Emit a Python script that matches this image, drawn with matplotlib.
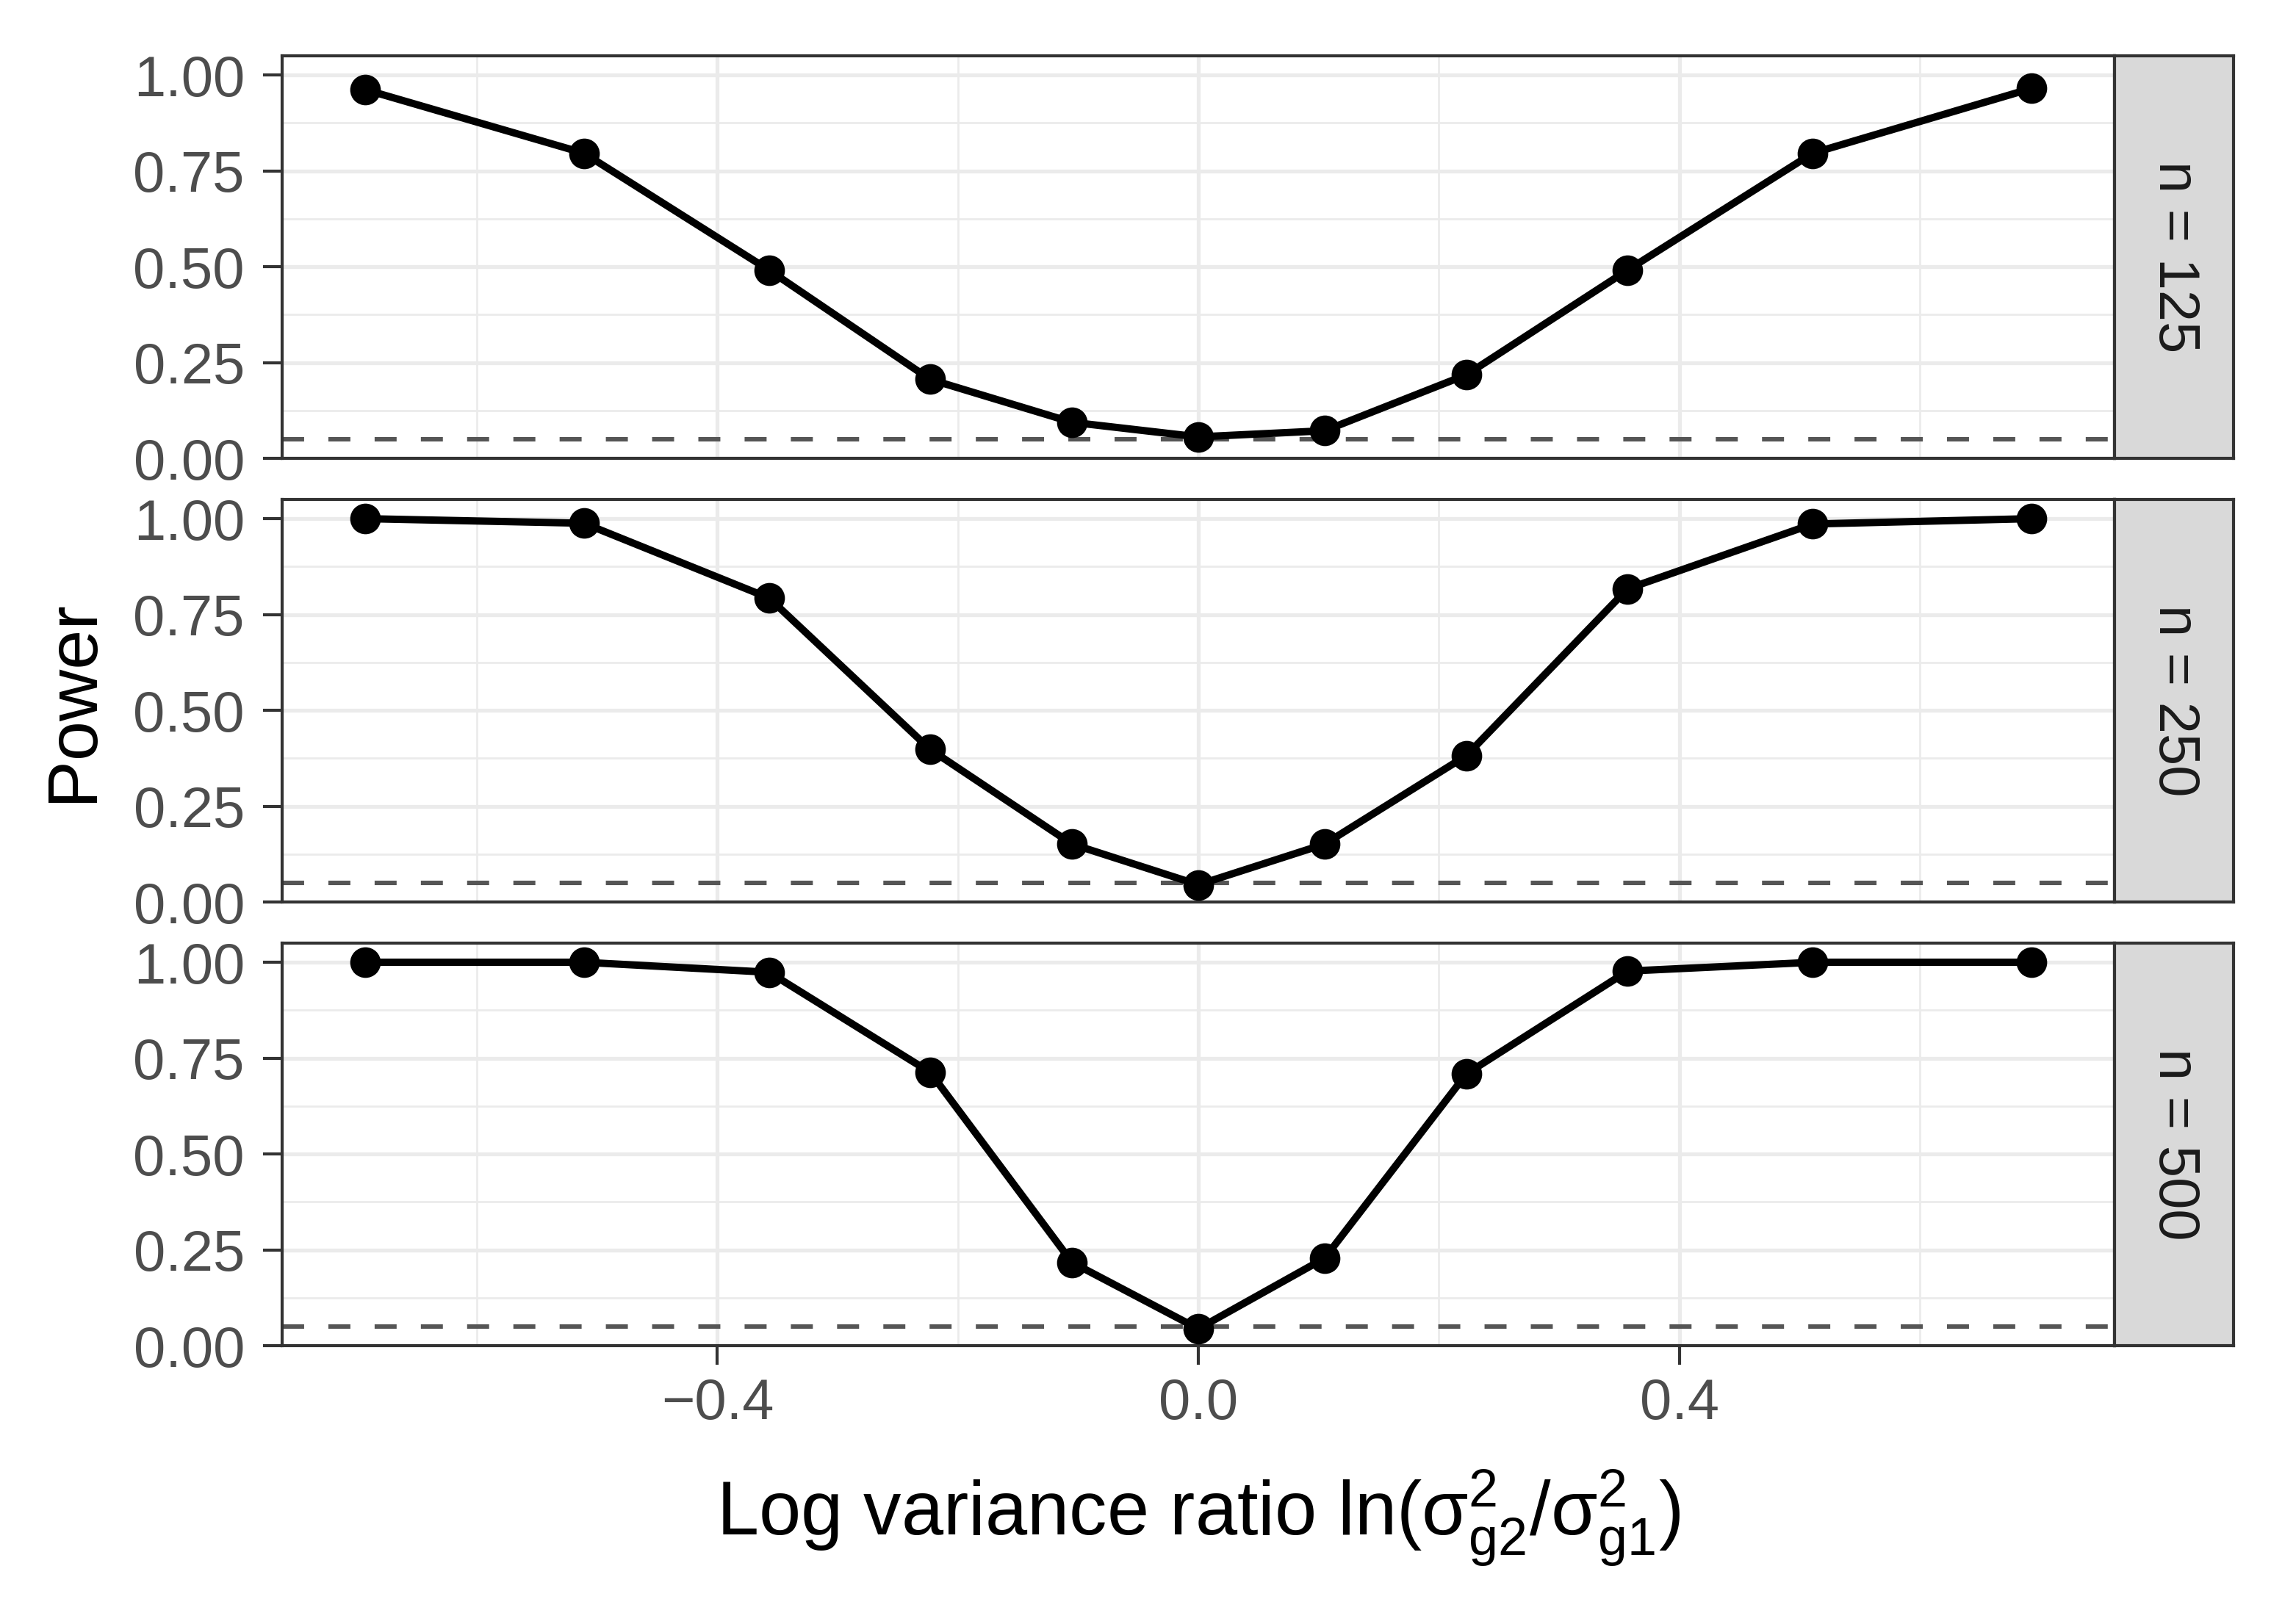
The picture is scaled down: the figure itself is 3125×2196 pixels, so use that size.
import matplotlib
matplotlib.use("Agg")
import matplotlib.pyplot as plt
from matplotlib.ticker import MultipleLocator

plt.rcParams['font.family'] = ['Liberation Sans', 'DejaVu Sans']
plt.rcParams['mathtext.fontset'] = 'custom'
plt.rcParams['mathtext.rm'] = 'Liberation Sans'
plt.rcParams['mathtext.it'] = 'Liberation Sans:italic'
plt.rcParams['axes.unicode_minus'] = True

# log variance ratio (x) and power for each sample size
log_ratio = [-0.693, -0.511, -0.357, -0.223, -0.105, 0.0, 0.105, 0.223, 0.357, 0.511, 0.693]
power_125 = [0.962, 0.796, 0.491, 0.206, 0.094, 0.056, 0.072, 0.218, 0.491, 0.796, 0.965]
power_250 = [1.0, 0.988, 0.793, 0.398, 0.151, 0.045, 0.151, 0.382, 0.817, 0.986, 1.0]
power_500 = [1.0, 1.0, 0.974, 0.713, 0.217, 0.044, 0.228, 0.709, 0.977, 1.0, 1.0]
panel_labels = ["n = 125", "n = 250", "n = 500"]
alpha_level = 0.05

W, H, DPI = 3125, 2196, 200
fig = plt.figure(figsize=(W / DPI, H / DPI), dpi=DPI, facecolor='white')

px_left, px_right, px_strip = 384, 2878, 3040
panel_px = [(76, 624), (680, 1228), (1284, 1832)]
border = '#333333'

series = [power_125, power_250, power_500]
for i, (top, bot) in enumerate(panel_px):
    ax = fig.add_axes([px_left / W, 1 - bot / H, (px_right - px_left) / W, (bot - top) / H])
    ax.set_xlim(-0.762, 0.762)
    ax.set_ylim(0, 1.05)
    ax.xaxis.set_major_locator(MultipleLocator(0.4))
    ax.xaxis.set_minor_locator(MultipleLocator(0.2))
    ax.yaxis.set_major_locator(MultipleLocator(0.25))
    ax.yaxis.set_minor_locator(MultipleLocator(0.125))
    ax.grid(which='major', color='#EBEBEB', lw=1.9)
    ax.grid(which='minor', color='#EBEBEB', lw=1.0)
    ax.set_axisbelow(True)
    for sp in ax.spines.values():
        sp.set_color(border)
        sp.set_linewidth(1.5)
    ax.axhline(alpha_level, color='#555555', lw=2.2, dashes=(4.9, 5.4))
    ax.plot(log_ratio, series[i], color='black', lw=3.6, marker='o', ms=14,
            zorder=3, clip_on=False)
    ax.yaxis.set_major_formatter(plt.FuncFormatter(lambda v, p: f"{v:.2f}"))
    ax.tick_params(axis='y', which='major', length=9.4, width=1.5, color=border,
                   labelsize=28, labelcolor='#4D4D4D', pad=9)
    ax.tick_params(which='minor', length=0)
    if i < 2:
        ax.tick_params(axis='x', which='major', length=0, labelbottom=False)
    else:
        ax.xaxis.set_major_formatter(plt.FuncFormatter(lambda v, p: f"{v:.1f}".replace('-', '\u2212')))
        ax.tick_params(axis='x', which='major', length=9.4, width=1.5, color=border,
                       labelsize=28, labelcolor='#4D4D4D', pad=6)

    # facet strip on the right
    sax = fig.add_axes([px_right / W, 1 - bot / H, (px_strip - px_right) / W, (bot - top) / H])
    sax.set_facecolor('#D9D9D9')
    sax.set_xticks([])
    sax.set_yticks([])
    for sp in sax.spines.values():
        sp.set_color(border)
        sp.set_linewidth(1.5)
    sax.text(0.5, 0.5, panel_labels[i], transform=sax.transAxes, rotation=-90,
             ha='center', va='center', fontsize=28, color='#1A1A1A')

fig.text((px_left + px_right) / 2 / W, 1 - 2090 / H,
         r'Log variance ratio ln(σ$^{\mathregular{2}}_{\mathregular{g2}}$/σ$^{\mathregular{2}}_{\mathregular{g1}}$)',
         ha='center', va='baseline', fontsize=37, color='black')
fig.text(100 / W, 1 - 954 / H, 'Power', rotation=90, ha='center', va='center',
         fontsize=35, color='black')

fig.savefig('out.png', dpi=DPI, facecolor='white')
